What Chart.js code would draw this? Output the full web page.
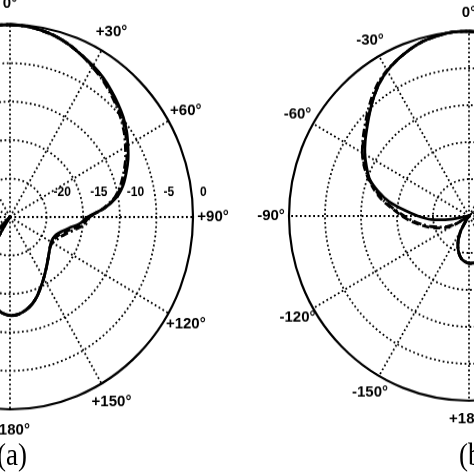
<!DOCTYPE html>
<html><head><meta charset="utf-8">
<script src="https://cdn.jsdelivr.net/npm/chart.js@4.4.0/dist/chart.umd.min.js"></script>
<style>
html,body{margin:0;padding:0;background:#fff;overflow:hidden;width:474px;height:474px;position:relative}
canvas{position:absolute}
#ca{left:-223px;top:-16.5px;transform-origin:233px 233px;transform:scaleY(1.051)}
#cb{left:239px;top:-14px;transform-origin:230px 230px;transform:scaleY(1.026)}
.cap{position:absolute;font-family:"Liberation Serif","Times New Roman",serif;font-size:27px;line-height:27px;transform-origin:0 0;transform:scaleY(1.2);color:#000}
</style></head><body>
<canvas id="ca" width="466" height="466"></canvas>
<canvas id="cb" width="460" height="460"></canvas>
<div class="cap" style="left:-3px;top:439px">(a)</div>
<div class="cap" style="left:459px;top:439px">(b)</div>
<script>
// angle categories (degrees, clockwise from top)
const angleDeg = [0,5,10,15,20,25,30,35,40,45,50,55,60,65,70,75,80,85,90,95,100,105,110,115,120,125,130,135,140,145,150,155,160,165,170,175,180,185,190,195,200,205,210,215,220,225,230,235,240,245,250,255,260,265,270,275,280,285,290,295,300,305,310,315,320,325,330,335,340,345,350,355];
// angle tick labels every 30 degrees (clockwise from top)
const angleTickLabels = ['0°','+30°','+60°','+90°','+120°','+150°','+180°','-150°','-120°','-90°','-60°','-30°'];
// radial tick labels (dB)
const ringValues = [-20,-15,-10,-5,0];
const ringLabels = ['-20','-15','-10','-5','0'];

// (a) patterns, dB
const solidA = [0,-0.1,-0.35,-0.7,-1.2,-1.8,-2.3,-2.85,-3.5,-4.15,-4.8,-5.55,-6.4,-7.2,-8.1,-9.0,-10.2,-12.1,-14.4,-15.4,-16.8,-17.7,-18.3,-18.5,-18.5,-18.3,-18.0,-17.6,-17.1,-16.5,-15.8,-15.0,-14.1,-13.3,-12.7,-12.3,-12.2,-12.5,-13.1,-14.0,-15.4,-17.5,-20.5,-24,-25,-22,-18.5,-15.5,-13,-11,-9.5,-8.2,-7,-6,-5.2,-4.4,-3.7,-3.1,-2.5,-2.0,-1.6,-1.25,-0.95,-0.7,-0.5,-0.35,-0.25,-0.15,-0.08,-0.03,0,0];
const dashdotA = [0,-0.1,-0.35,-0.7,-1.2,-1.8,-2.5,-3.1,-3.8,-4.5,-5.2,-5.95,-6.8,-7.6,-8.5,-9.4,-10.5,-12.2,-14.1,-14.6,-15.9,-16.9,-17.6,-18.0,-18.3,-18.3,-18.0,-17.6,-17.1,-16.5,-15.8,-15.0,-14.1,-13.3,-12.7,-12.3,-12.2,-12.5,-13.1,-14.0,-15.4,-17.5,-20.5,-24,-25,-22,-18.5,-15.5,-13,-11,-9.5,-8.2,-7,-6,-5.2,-4.4,-3.7,-3.1,-2.5,-2.0,-1.6,-1.25,-0.95,-0.7,-0.5,-0.35,-0.25,-0.15,-0.08,-0.03,0,0];
const dashedA = [0,-0.1,-0.35,-0.7,-1.2,-1.8,-2.4,-3.0,-3.65,-4.35,-5.0,-5.75,-6.6,-7.4,-8.3,-9.2,-10.35,-12.15,-14.2,-14.9,-16.3,-17.3,-18.0,-18.3,-18.4,-18.3,-18.0,-17.6,-17.1,-16.5,-15.8,-15.0,-14.1,-13.3,-12.7,-12.3,-12.2,-12.5,-13.1,-14.0,-15.4,-17.5,-20.5,-24,-25,-22,-18.5,-15.5,-13,-11,-9.5,-8.2,-7,-6,-5.2,-4.4,-3.7,-3.1,-2.5,-2.0,-1.6,-1.25,-0.95,-0.7,-0.5,-0.35,-0.25,-0.15,-0.08,-0.03,0,0];

// (b) patterns, dB
const solidB = [0,-0.1,-0.3,-0.7,-1.2,-1.8,-2.5,-3.3,-4.2,-5.1,-6.0,-6.9,-7.8,-8.7,-9.6,-10.5,-11.4,-12.2,-13.0,-13.8,-14.6,-15.3,-16.0,-16.6,-17.2,-17.7,-18.1,-18.4,-18.6,-18.8,-18.9,-18.9,-18.8,-18.7,-18.6,-18.6,-18.6,-18.8,-19.1,-19.7,-20.5,-21.5,-22.8,-24.5,-25,-25,-25,-25,-25,-25,-25,-25,-22.5,-19.7,-17.9,-16.0,-13.7,-11.9,-10.3,-9.3,-8.3,-7.4,-6.5,-5.45,-4.3,-3.2,-2.3,-1.6,-1.0,-0.5,-0.2,0];
const dashedB = [0,-0.1,-0.3,-0.7,-1.2,-1.8,-2.5,-3.3,-4.2,-5.1,-6.0,-6.9,-7.8,-8.7,-9.6,-10.5,-11.4,-12.2,-13.0,-13.8,-14.6,-15.3,-16.0,-16.6,-17.2,-17.7,-18.1,-18.4,-18.6,-18.8,-18.9,-18.9,-18.8,-18.7,-18.6,-18.6,-18.6,-18.8,-19.1,-19.7,-20.5,-21.5,-22.8,-24.5,-25,-25,-25,-24.5,-22.5,-21.2,-20.3,-19.2,-18.1,-16.9,-15.7,-14.4,-12.8,-11.4,-10.1,-8.9,-7.9,-7.1,-6.3,-5.4,-4.3,-3.2,-2.3,-1.6,-1.0,-0.5,-0.2,0];
const dashdotB = [0,-0.1,-0.3,-0.7,-1.2,-1.8,-2.5,-3.3,-4.2,-5.1,-6.0,-6.9,-7.8,-8.7,-9.6,-10.5,-11.4,-12.2,-13.0,-13.8,-14.6,-15.3,-16.0,-16.6,-17.2,-17.7,-18.1,-18.4,-18.6,-18.8,-18.9,-18.9,-18.8,-18.7,-18.6,-18.6,-18.6,-18.8,-19.1,-19.7,-20.5,-21.5,-22.8,-24.5,-25,-25,-25,-25,-23.0,-21.6,-20.6,-19.5,-18.4,-17.2,-16.0,-14.6,-13.0,-11.6,-10.2,-9.0,-7.9,-7.0,-6.1,-5.1,-4.0,-3.0,-2.2,-1.6,-1.0,-0.5,-0.2,0];

const DOT = [1.8, 2.6];
const labelFont = "bold 15px 'Liberation Sans', Arial, sans-serif";
const ringFont = "bold 12px 'Liberation Sans', Arial, sans-serif";

function labelPlugin(gap) {
  return {
    id: 'polarLabels',
    afterDraw(chart) {
      const s = chart.scales.r, ctx = chart.ctx;
      ctx.save();
      ctx.fillStyle = '#000';
      ctx.font = labelFont;
      ctx.textAlign = 'center';
      ctx.textBaseline = 'middle';
      const step = angleDeg.length / angleTickLabels.length;
      angleTickLabels.forEach((t, k) => {
        const p = s.getPointPosition(k * step, s.drawingArea + gap);
        ctx.fillText(t, p.x, p.y);
      });
      ctx.font = ringFont;
      ctx.textAlign = 'left';
      ringValues.forEach((v, k) => {
        const d = s.getDistanceFromCenterForValue(v);
        ctx.fillText(ringLabels[k], s.xCenter + d + 7, s.yCenter - 23);
      });
      ctx.restore();
    }
  };
}

function ds(label, data, dash) {
  return { label, data, borderColor: '#000', borderWidth: 2.8, borderDash: dash,
           pointRadius: 0, fill: false, tension: 0.25 };
}

function makeChart(id, sets, pad, gap) {
  return new Chart(document.getElementById(id), {
    type: 'radar',
    data: { labels: angleDeg.map(a => a + '°'), datasets: sets },
    options: {
      responsive: false, animation: false, devicePixelRatio: 1,
      layout: { padding: pad },
      plugins: { legend: { display: false }, tooltip: { enabled: false } },
      scales: {
        r: {
          min: -25, max: 0, startAngle: 0,
          ticks: { display: false, stepSize: 5 },
          pointLabels: { display: false },
          grid: { circular: true, color: '#000',
                  lineWidth: c => (c.tick && c.tick.value === 0) ? 2.2 : 1.8 },
          border: { dash: c => (c.tick && c.tick.value === 0) ? [] : DOT },
          angleLines: { display: true,
                        color: c => (c.index % 6 === 0) ? '#000' : 'rgba(0,0,0,0)',
                        lineWidth: c => (c.index % 6 === 0) ? 1.8 : 0,
                        borderDash: DOT }
        }
      }
    },
    plugins: [labelPlugin(gap)]
  });
}

makeChart('ca', [ds('solid', solidA, []), ds('dash-dot', dashdotA, [8,3,2,3]), ds('dashed', dashedA, [7,4])], 50, 20);
makeChart('cb', [ds('solid', solidB, []), ds('dash-dot', dashdotB, [8,3,2,3]), ds('dashed', dashedB, [7,4])], 50, 18);
</script>
</body></html>
